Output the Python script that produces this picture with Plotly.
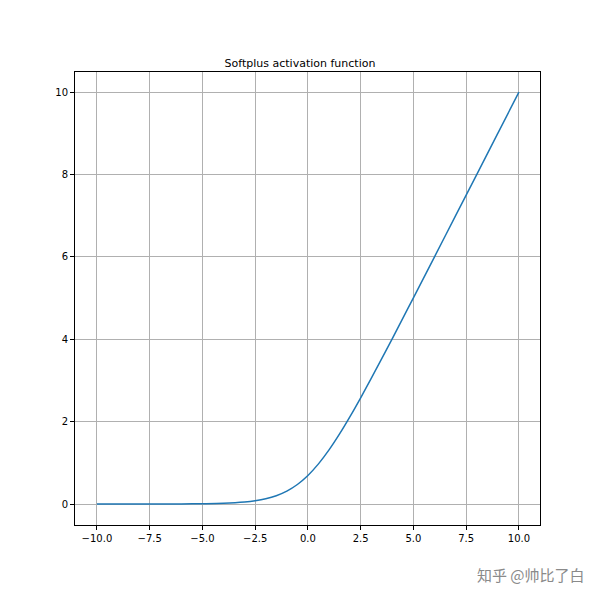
import plotly.graph_objects as go

# values
x_vals = [-10, -9, -8, -7, -6, -5, -4, -3, -2.5, -2, -1.5, -1, -0.5, 0,
          0.5, 1, 1.5, 2, 2.5, 3, 4, 5, 6, 7, 8, 9, 10]
y_vals = [0.00005, 0.0001, 0.0003, 0.0009, 0.0025, 0.0067, 0.018, 0.049, 0.079,
          0.127, 0.201, 0.313, 0.474, 0.693, 0.974, 1.313, 1.701, 2.127, 2.579,
          3.049, 4.018, 5.007, 6.002, 7.001, 8.0, 9.0, 10.0]
x_ticks = [-10, -7.5, -5, -2.5, 0, 2.5, 5, 7.5, 10]
x_tick_text = ["−10.0", "−7.5", "−5.0", "−2.5", "0.0", "2.5", "5.0", "7.5", "10.0"]
y_ticks = [0, 2, 4, 6, 8, 10]

fig = go.Figure(go.Scatter(x=x_vals, y=y_vals, mode="lines",
                           line=dict(color="#1f77b4", width=1.5, shape="spline")))

axis_common = dict(showgrid=True, gridcolor="#b0b0b0", gridwidth=1, zeroline=False,
                   showline=True, linecolor="black", linewidth=1, mirror=True,
                   ticks="outside", ticklen=4, tickcolor="black",
                   tickfont=dict(size=10, color="black"))

fig.update_layout(
    width=600, height=600,
    margin=dict(l=67, r=68, t=64, b=83),
    paper_bgcolor="white", plot_bgcolor="white",
    font=dict(family="DejaVu Sans"),
    showlegend=False,
    title=dict(text="Softplus activation function", x=0.5 - 8 / 600, xanchor="center",
               y=1 - 55 / 600, yanchor="middle", font=dict(size=11, color="black")),
    xaxis=dict(range=[-11.04, 11.0], tickvals=x_ticks, ticktext=x_tick_text, **axis_common),
    yaxis=dict(range=[-0.51, 10.49], tickvals=y_ticks, **axis_common),
    annotations=[dict(text="知乎 @帅比了白", xref="paper", yref="paper",
                      x=1.1, y=-0.11, xanchor="right", yanchor="middle", showarrow=False,
                      font=dict(family="Noto Sans CJK SC", size=15, color="#8a8a8a"))],
)

fig.write_html("out.html")
